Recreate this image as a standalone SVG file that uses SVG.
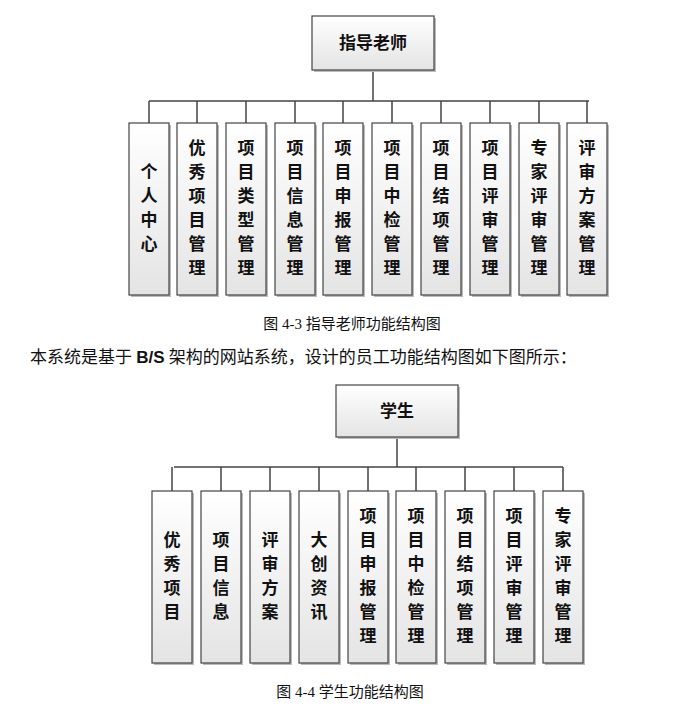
<svg xmlns="http://www.w3.org/2000/svg" width="687" height="724" viewBox="0 0 687 724">
<defs>
<linearGradient id="g" x1="0" y1="0" x2="0" y2="1"><stop offset="0" stop-color="#ffffff"/><stop offset="1" stop-color="#e4e4e4"/></linearGradient>
<style>
.b{fill:url(#g);stroke:#444;stroke-width:1.2}
.s{fill:#bbb}
.t{font-family:"Noto Sans CJK SC",sans-serif;font-weight:bold;font-size:17px;fill:#111;text-anchor:middle}
.c{font-family:"Liberation Serif","Noto Sans CJK SC",serif;font-size:15px;fill:#111;text-anchor:middle}
.l{stroke:#444;stroke-width:1.5;fill:none}
</style>
</defs>
<rect width="687" height="724" fill="#fff"/>
<g id="connectors">
<path class="l" d="M373 71V101M149 101H589M149 101V123M197 101V123M246 101V123M295 101V123M343 101V123M392 101V123M441 101V123M490 101V123M539 101V123M587 101V123"/>
<path class="l" d="M397 439V467M174 467H563M172 467V491M221 467V491M270 467V491M319 467V491M368 467V491M416 467V491M465 467V491M514 467V491M563 467V491"/>
</g>
<g id="root1"><rect class="s" x="314" y="18" width="122" height="54"/><rect class="b" x="312" y="16" width="122" height="54"/><text class="t" x="373" y="49">指导老师</text></g>
<g id="n1"><rect class="s" x="131" y="125" width="40" height="172"/><rect class="b" x="129" y="123" width="40" height="172"/><text class="t" x="149"><tspan x="149" y="178">个</tspan><tspan x="149" y="202">人</tspan><tspan x="149" y="226">中</tspan><tspan x="149" y="250">心</tspan></text></g>
<g id="n2"><rect class="s" x="179" y="125" width="40" height="172"/><rect class="b" x="177" y="123" width="40" height="172"/><text class="t"><tspan x="197" y="154">优</tspan><tspan x="197" y="178">秀</tspan><tspan x="197" y="202">项</tspan><tspan x="197" y="226">目</tspan><tspan x="197" y="250">管</tspan><tspan x="197" y="274">理</tspan></text></g>
<g id="n3"><rect class="s" x="228" y="125" width="40" height="172"/><rect class="b" x="226" y="123" width="40" height="172"/><text class="t"><tspan x="246" y="154">项</tspan><tspan x="246" y="178">目</tspan><tspan x="246" y="202">类</tspan><tspan x="246" y="226">型</tspan><tspan x="246" y="250">管</tspan><tspan x="246" y="274">理</tspan></text></g>
<g id="n4"><rect class="s" x="277" y="125" width="40" height="172"/><rect class="b" x="275" y="123" width="40" height="172"/><text class="t"><tspan x="295" y="154">项</tspan><tspan x="295" y="178">目</tspan><tspan x="295" y="202">信</tspan><tspan x="295" y="226">息</tspan><tspan x="295" y="250">管</tspan><tspan x="295" y="274">理</tspan></text></g>
<g id="n5"><rect class="s" x="325" y="125" width="40" height="172"/><rect class="b" x="323" y="123" width="40" height="172"/><text class="t"><tspan x="343" y="154">项</tspan><tspan x="343" y="178">目</tspan><tspan x="343" y="202">申</tspan><tspan x="343" y="226">报</tspan><tspan x="343" y="250">管</tspan><tspan x="343" y="274">理</tspan></text></g>
<g id="n6"><rect class="s" x="374" y="125" width="40" height="172"/><rect class="b" x="372" y="123" width="40" height="172"/><text class="t"><tspan x="392" y="154">项</tspan><tspan x="392" y="178">目</tspan><tspan x="392" y="202">中</tspan><tspan x="392" y="226">检</tspan><tspan x="392" y="250">管</tspan><tspan x="392" y="274">理</tspan></text></g>
<g id="n7"><rect class="s" x="423" y="125" width="40" height="172"/><rect class="b" x="421" y="123" width="40" height="172"/><text class="t"><tspan x="441" y="154">项</tspan><tspan x="441" y="178">目</tspan><tspan x="441" y="202">结</tspan><tspan x="441" y="226">项</tspan><tspan x="441" y="250">管</tspan><tspan x="441" y="274">理</tspan></text></g>
<g id="n8"><rect class="s" x="472" y="125" width="40" height="172"/><rect class="b" x="470" y="123" width="40" height="172"/><text class="t"><tspan x="490" y="154">项</tspan><tspan x="490" y="178">目</tspan><tspan x="490" y="202">评</tspan><tspan x="490" y="226">审</tspan><tspan x="490" y="250">管</tspan><tspan x="490" y="274">理</tspan></text></g>
<g id="n9"><rect class="s" x="521" y="125" width="40" height="172"/><rect class="b" x="519" y="123" width="40" height="172"/><text class="t"><tspan x="539" y="154">专</tspan><tspan x="539" y="178">家</tspan><tspan x="539" y="202">评</tspan><tspan x="539" y="226">审</tspan><tspan x="539" y="250">管</tspan><tspan x="539" y="274">理</tspan></text></g>
<g id="n10"><rect class="s" x="569" y="125" width="40" height="172"/><rect class="b" x="567" y="123" width="40" height="172"/><text class="t"><tspan x="587" y="154">评</tspan><tspan x="587" y="178">审</tspan><tspan x="587" y="202">方</tspan><tspan x="587" y="226">案</tspan><tspan x="587" y="250">管</tspan><tspan x="587" y="274">理</tspan></text></g>
<text class="c" x="352" y="329">图 4-3  指导老师功能结构图</text>
<text x="30" y="363" font-family="'Liberation Serif','Noto Sans CJK SC',serif" font-size="17" fill="#111">本系统是基于 <tspan font-family="'Liberation Sans',sans-serif" font-weight="bold">B/S</tspan> 架构的网站系统，设计的员工功能结构图如下图所示：</text>
<g id="root2"><rect class="s" x="338" y="387" width="122" height="52"/><rect class="b" x="336" y="385" width="122" height="52"/><text class="t" x="397" y="417">学生</text></g>
<g id="m1"><rect class="s" x="154" y="493" width="40" height="172"/><rect class="b" x="152" y="491" width="40" height="172"/><text class="t"><tspan x="172" y="546">优</tspan><tspan x="172" y="570">秀</tspan><tspan x="172" y="594">项</tspan><tspan x="172" y="618">目</tspan></text></g>
<g id="m2"><rect class="s" x="203" y="493" width="40" height="172"/><rect class="b" x="201" y="491" width="40" height="172"/><text class="t"><tspan x="221" y="546">项</tspan><tspan x="221" y="570">目</tspan><tspan x="221" y="594">信</tspan><tspan x="221" y="618">息</tspan></text></g>
<g id="m3"><rect class="s" x="252" y="493" width="40" height="172"/><rect class="b" x="250" y="491" width="40" height="172"/><text class="t"><tspan x="270" y="546">评</tspan><tspan x="270" y="570">审</tspan><tspan x="270" y="594">方</tspan><tspan x="270" y="618">案</tspan></text></g>
<g id="m4"><rect class="s" x="301" y="493" width="40" height="172"/><rect class="b" x="299" y="491" width="40" height="172"/><text class="t"><tspan x="319" y="546">大</tspan><tspan x="319" y="570">创</tspan><tspan x="319" y="594">资</tspan><tspan x="319" y="618">讯</tspan></text></g>
<g id="m5"><rect class="s" x="350" y="493" width="40" height="172"/><rect class="b" x="348" y="491" width="40" height="172"/><text class="t"><tspan x="368" y="522">项</tspan><tspan x="368" y="546">目</tspan><tspan x="368" y="570">申</tspan><tspan x="368" y="594">报</tspan><tspan x="368" y="618">管</tspan><tspan x="368" y="642">理</tspan></text></g>
<g id="m6"><rect class="s" x="398" y="493" width="40" height="172"/><rect class="b" x="396" y="491" width="40" height="172"/><text class="t"><tspan x="416" y="522">项</tspan><tspan x="416" y="546">目</tspan><tspan x="416" y="570">中</tspan><tspan x="416" y="594">检</tspan><tspan x="416" y="618">管</tspan><tspan x="416" y="642">理</tspan></text></g>
<g id="m7"><rect class="s" x="447" y="493" width="40" height="172"/><rect class="b" x="445" y="491" width="40" height="172"/><text class="t"><tspan x="465" y="522">项</tspan><tspan x="465" y="546">目</tspan><tspan x="465" y="570">结</tspan><tspan x="465" y="594">项</tspan><tspan x="465" y="618">管</tspan><tspan x="465" y="642">理</tspan></text></g>
<g id="m8"><rect class="s" x="496" y="493" width="40" height="172"/><rect class="b" x="494" y="491" width="40" height="172"/><text class="t"><tspan x="514" y="522">项</tspan><tspan x="514" y="546">目</tspan><tspan x="514" y="570">评</tspan><tspan x="514" y="594">审</tspan><tspan x="514" y="618">管</tspan><tspan x="514" y="642">理</tspan></text></g>
<g id="m9"><rect class="s" x="545" y="493" width="40" height="172"/><rect class="b" x="543" y="491" width="40" height="172"/><text class="t"><tspan x="563" y="522">专</tspan><tspan x="563" y="546">家</tspan><tspan x="563" y="570">评</tspan><tspan x="563" y="594">审</tspan><tspan x="563" y="618">管</tspan><tspan x="563" y="642">理</tspan></text></g>
<text class="c" x="350" y="697">图 4-4  学生功能结构图</text>
</svg>
